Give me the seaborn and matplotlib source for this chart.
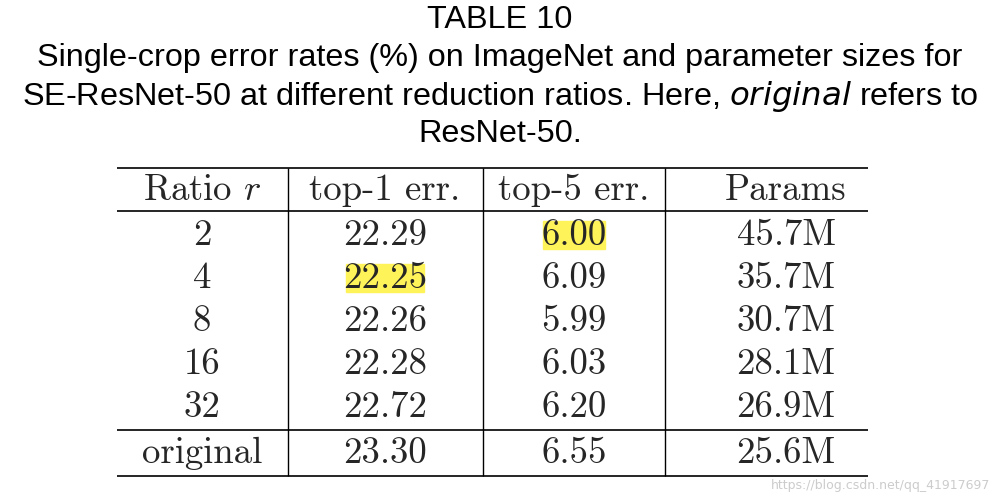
import matplotlib.pyplot as plt
import seaborn as sns
from matplotlib.patches import Rectangle

# table content
title_lines = ["TABLE 10",
               "Single-crop error rates (%) on ImageNet and parameter sizes for",
               "SE-ResNet-50 at different reduction ratios. Here, $\\mathit{original}$ refers to",
               "ResNet-50."]
headers = ["Ratio $r$", "top-1 err.", "top-5 err.", "Params"]
ratios = ["2", "4", "8", "16", "32", "original"]
top1 = ["22.29", "22.25", "22.26", "22.28", "22.72", "23.30"]
top5 = ["6.00", "6.09", "5.99", "6.03", "6.20", "6.55"]
params = ["45.7M", "35.7M", "30.7M", "28.1M", "26.9M", "25.6M"]
highlight = [(0, 2), (1, 1)]  # (row, col) of yellow marked cells

sns.set_theme(style="white")
plt.rcParams['mathtext.fontset'] = 'cm'

fig = plt.figure(figsize=(10, 5), dpi=100, facecolor='white')
ax = fig.add_axes([0, 0, 1, 1])
ax.set_xlim(0, 1000)
ax.set_ylim(500, 0)
ax.axis('off')

# title (sans)
for i, line in enumerate(title_lines):
    ax.text(500, 20 + i * 38, line, ha='center', va='center', fontsize=23.3,
            family=['Liberation Sans', 'DejaVu Sans'], color='black',
            math_fontfamily='dejavusans')

col_x = [202, 385, 574, 786]
col_edges = [117, 288, 483, 665, 868]
row_y = [235, 278, 321, 364, 407, 453]
header_y = 190

ax.hlines([168, 211, 430, 476], col_edges[0], col_edges[-1], color='black', lw=1.2)
ax.vlines(col_edges[1:-1], 168, 476, color='black', lw=1.0)

serif = ['cmr10', 'DejaVu Serif']
for j, h in enumerate(headers):
    ax.text(col_x[j], header_y, h, ha='center', va='center', fontsize=26.5, family=serif)

columns = [ratios, top1, top5, params]
for j, col in enumerate(columns):
    for i, val in enumerate(col):
        ax.text(col_x[j], row_y[i], val, ha='center', va='center', fontsize=26.5, family=serif)
        if (i, j) in highlight:
            w = len(val) * 15.5
            ax.add_patch(Rectangle((col_x[j] - w / 2, row_y[i] - 14), w, 28,
                                   color='#fff35a', zorder=0))

ax.text(990, 485, "https://blog.csdn.net/qq_41917697", ha='right', va='center',
        fontsize=9, color='#cccccc', family=['DejaVu Sans'])

fig.savefig('out.png', dpi=100)
